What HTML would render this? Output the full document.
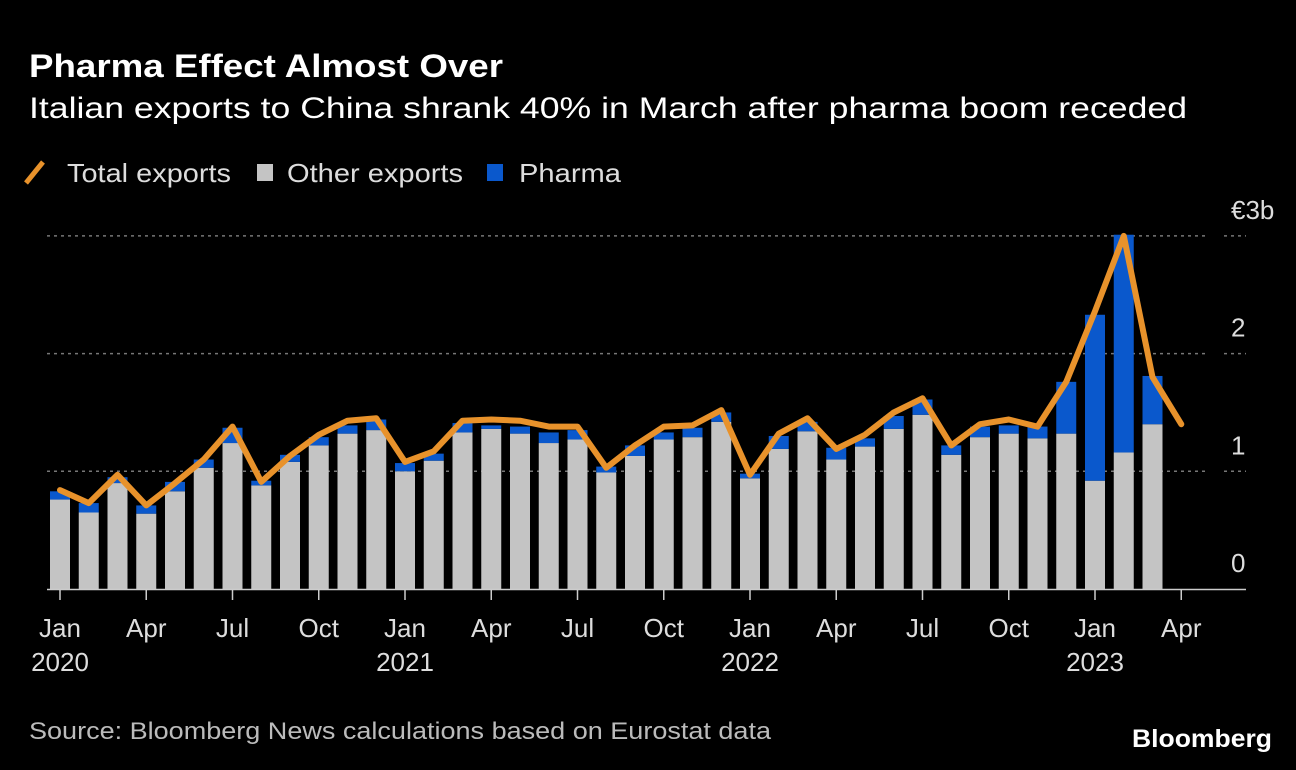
<!DOCTYPE html>
<html><head><meta charset="utf-8"><style>
html,body{margin:0;padding:0;background:#000;}
svg{display:block;font-family:"Liberation Sans","DejaVu Sans",sans-serif;}
</style></head><body>
<svg id="chart" width="1296" height="770" viewBox="0 0 1296 770" xmlns="http://www.w3.org/2000/svg">
<rect width="1296" height="770" fill="#000"/>
<text x="29" y="77" font-size="32" font-weight="bold" fill="#fff" textLength="474" lengthAdjust="spacingAndGlyphs">Pharma Effect Almost Over</text>
<text x="29" y="118" font-size="30" fill="#fff" textLength="1158" lengthAdjust="spacingAndGlyphs">Italian exports to China shrank 40% in March after pharma boom receded</text>
<g>
 <g>
  <line x1="26" y1="183" x2="43" y2="162" stroke="#e8922b" stroke-width="5"/>
  <text x="67" y="182" font-size="26" fill="#ddd" textLength="164" lengthAdjust="spacingAndGlyphs">Total exports</text>
 </g>
 <g>
  <rect x="257" y="164" width="16" height="17" fill="#c4c4c4"/>
  <text x="287" y="182" font-size="26" fill="#ddd" textLength="176" lengthAdjust="spacingAndGlyphs">Other exports</text>
 </g>
 <g>
  <rect x="487" y="164" width="16" height="17" fill="#0a58cc"/>
  <text x="519" y="182" font-size="26" fill="#ddd" textLength="102" lengthAdjust="spacingAndGlyphs">Pharma</text>
 </g>
</g>
<g id="grid"></g>
<g id="bars"></g>
<g id="line"></g>
<g id="xaxis"></g>
<g id="yaxis"></g>
<text x="29" y="739" font-size="24" fill="#bbb" textLength="742" lengthAdjust="spacingAndGlyphs">Source: Bloomberg News calculations based on Eurostat data</text>
<text x="1272" y="747" font-size="25" font-weight="bold" fill="#fff" text-anchor="end" textLength="140" lengthAdjust="spacingAndGlyphs">Bloomberg</text>
</svg>
<script>
const otherExports = [0.76,0.65,0.90,0.64,0.83,1.03,1.24,0.88,1.08,1.22,1.32,1.35,
 1.00,1.09,1.33,1.36,1.32,1.24,1.27,0.99,1.13,1.27,1.29,1.42,
 0.94,1.19,1.34,1.10,1.21,1.36,1.48,1.14,1.29,1.32,1.28,1.32,
 0.92,1.16,1.40];
const pharma = [0.07,0.08,0.05,0.07,0.08,0.07,0.13,0.04,0.06,0.07,0.07,0.09,
 0.07,0.06,0.08,0.03,0.06,0.09,0.08,0.05,0.09,0.06,0.08,0.08,
 0.04,0.11,0.08,0.10,0.07,0.11,0.13,0.08,0.09,0.07,0.10,0.44,
 1.41,1.85,0.41];
const totalExports = [0.84,0.73,0.97,0.71,0.90,1.10,1.38,0.91,1.13,1.31,1.43,1.45,
 1.08,1.17,1.43,1.44,1.43,1.38,1.38,1.03,1.22,1.38,1.39,1.52,
 0.97,1.32,1.45,1.19,1.31,1.50,1.62,1.22,1.40,1.44,1.38,1.76,
 2.36,3.00,1.80,1.40];
const yTicks = [0,1,2,3];
const yTickLabels = ["0","1","2","€3b"];
const xTickMonths = [0,3,6,9,12,15,18,21,24,27,30,33,36,39];
const xTickLabels = ["Jan","Apr","Jul","Oct","Jan","Apr","Jul","Oct","Jan","Apr","Jul","Oct","Jan","Apr"];
const xYearLabels = ["2020","","","","2021","","","","2022","","","","2023",""];

const NS="http://www.w3.org/2000/svg";
const x0=60, dx=28.75, yBase=589, yUnit=117.7;
const xScale=i=>x0+i*dx;
const yScale=v=>yBase-v*yUnit;
function mk(tag,attrs,parent){const e=document.createElementNS(NS,tag);for(const k in attrs)e.setAttribute(k,attrs[k]);parent.appendChild(e);return e;}

const grid=document.getElementById('grid'), yaxis=document.getElementById('yaxis');
yTicks.forEach((t,i)=>{
  const y=yScale(t);
  if(t>0){
    const g1=mk('line',{x1:47,x2:1206,y1:y,y2:y,stroke:'#777','stroke-width':1.5,'stroke-dasharray':'3 4'},grid);
    
    
    const g2=mk('line',{x1:1224,x2:1246,y1:y,y2:y,stroke:'#777','stroke-width':1.5,'stroke-dasharray':'3 4'},grid);
    
    
  }
  const tx=mk('text',{x:1231,y:y-17,'font-size':26,fill:'#ddd','text-anchor':'start'},yaxis);
  tx.textContent=yTickLabels[i];
  
  
});

const bars=document.getElementById('bars');
otherExports.forEach((v,i)=>{
  const cx=xScale(i);
  const r1=mk('rect',{x:cx-10,y:yScale(v),width:20,height:v*yUnit,fill:'#c4c4c4'},bars);
  
  
  const p=pharma[i];
  const r2=mk('rect',{x:cx-10,y:yScale(v+p),width:20,height:p*yUnit,fill:'#0a58cc'},bars);
  
  
});

const lineG=document.getElementById('line');
const pts=totalExports.map((v,i)=>xScale(i).toFixed(1)+','+yScale(v).toFixed(1)).join(' ');
const pl=mk('polyline',{points:pts,fill:'none',stroke:'#e8922b','stroke-width':6,'stroke-linejoin':'round','stroke-linecap':'round'},lineG);



const xaxis=document.getElementById('xaxis');
const ax=mk('line',{x1:47,x2:1246,y1:yBase+0.5,y2:yBase+0.5,stroke:'#ccc','stroke-width':1.5},xaxis);


xTickMonths.forEach((m,i)=>{
  const x=xScale(m);
  const tk=mk('line',{x1:x,x2:x,y1:yBase,y2:yBase+11,stroke:'#ccc','stroke-width':1.5},xaxis);
  
  
  const t=mk('text',{x:x,y:637,'font-size':26,fill:'#ddd','text-anchor':'middle'},xaxis);
  t.textContent=xTickLabels[i];
  
  
  if(xYearLabels[i]){
    const yt=mk('text',{x:x,y:671,'font-size':26,fill:'#ddd','text-anchor':'middle'},xaxis);
    yt.textContent=xYearLabels[i];
    
    
  }
});
</script>
</body></html>
